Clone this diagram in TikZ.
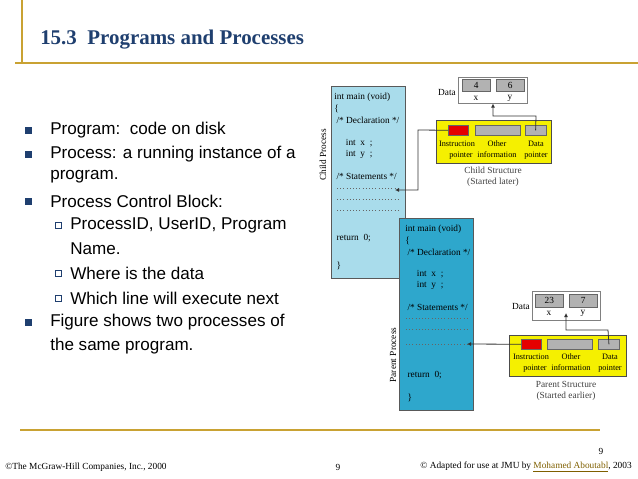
\documentclass[tikz,border=0pt]{standalone}
\usepackage{fontspec}
\setmainfont{Liberation Serif}
\newfontfamily\arial{Liberation Sans}
\usetikzlibrary{arrows.meta}
\definecolor{gold}{HTML}{C9A233}
\definecolor{ttl}{HTML}{1F3F6F}
\definecolor{lblue}{HTML}{A9DCEB}
\definecolor{dblue}{HTML}{2EA7CC}
\definecolor{yel}{HTML}{F5F000}
\definecolor{lnk}{HTML}{7F5F00}
\tikzset{
 bul/.style={anchor=west,font=\arial\fontsize{12.8}{14}\selectfont,inner sep=0},
 code/.style={anchor=west,font=\fontsize{7}{8}\selectfont,inner sep=0},
 lab/.style={font=\fontsize{7}{8}\selectfont,inner sep=0,align=center},
 blab/.style={font=\fontsize{6.2}{7}\selectfont,inner sep=0,anchor=base},
 gbox/.style={draw=gray!80!black,fill=gray!60,inner sep=0},
 rbox/.style={draw=gray!80!black,fill=red!90!black,inner sep=0},
 ptr/.style={draw=black!80,line width=0.6pt,-{Latex[length=3pt,width=3pt]}},
 foot/.style={font=\fontsize{7}{8}\selectfont,inner sep=0}
}
\begin{document}
\begin{tikzpicture}[x=0.75pt,y=-0.75pt]
\useasboundingbox (0,0) rectangle (638,478);
\draw[gold,line width=0.8pt] (22,0) -- (22,63);
\draw[gold,line width=0.8pt] (15,63) -- (638,63);
\draw[gold,line width=0.8pt] (20,430) -- (600,430);
\node[anchor=west,inner sep=0,text=ttl,font=\bfseries\fontsize{15.7}{17}\selectfont] (title) at (40,40) {15.3\ \ Programs and Processes};
% bullets
\foreach \y in {130,154,201,322}
 {\fill[ttl] (25,\y-3.5) rectangle (32,\y+3.5);}
\node[bul] (b1) at (50,130) {Program:\ \ code on disk};
\node[bul] (b2) at (50,154) {Process: a running instance of a};
\node[bul] (b2b) at (50,177) {program.};
\node[bul] (b3) at (50,201) {Process Control Block:};
\foreach \y in {225,273,298} {\draw[ttl,line width=0.6pt] (55,\y-3) rectangle (61,\y+3);}
\node[bul] (s1) at (70,225) {ProcessID, UserID, Program};
\node[bul] (s1b) at (70,249) {Name.};
\node[bul] (s2) at (70,273) {Where is the data};
\node[bul] (s3) at (70,298) {Which line will execute next};
\node[bul] (b4) at (50,322) {Figure shows two processes of};
\node[bul] (b4b) at (50,346) {the same program.};
% child process
\node[draw=gray!70!black,fill=lblue,minimum width=55.5pt,minimum height=144pt,inner sep=0,anchor=north west] (child) at (331,86) {};
\node[lab,rotate=90] (clab) at (323,155) {Child Process};
\foreach \dy/\t in {97/{int main (void)},109/\{,120/{\ /* Declaration */},143/{\quad\ int\ \ x\ \ ;},154/{\quad\ int\ \ y\ \ ;},176/{\ /* Statements */},238/{\ return\ \ 0;},266/{\ \}}}
 {\node[code] at (334,\dy) {\t};}
\foreach \dy in {188,199,210} {\draw[black!60,line width=0.4pt,dotted] (337,\dy) -- (399,\dy);}
% parent process
\node[draw=gray!70!black,fill=dblue,minimum width=55.5pt,minimum height=144pt,inner sep=0,anchor=north west] (parent) at (399,218) {};
\node[lab,rotate=90] (plab) at (393,355) {Parent Process};
\foreach \dy/\t in {229/{int main (void)},241/\{,252/{\ /* Declaration */},274/{\quad\ int\ \ x\ \ ;},285/{\quad\ int\ \ y\ \ ;},307/{\ /* Statements */},375/{\ return\ \ 0;},398/{\ \}}}
 {\node[code] at (405,\dy) {\t};}
\foreach \dy in {318,329,344} {\draw[black!60,line width=0.4pt,dotted] (406,\dy) -- (469,\dy);}
% child data
\node[draw=gray,fill=white,minimum width=51.75pt,minimum height=19.5pt,inner sep=0,anchor=north west] (cdata) at (458,77) {};
\node[lab,anchor=east] (cdl) at (456,92) {Data};
\node[gbox,minimum width=21pt,minimum height=9pt,anchor=north west,font=\fontsize{7}{8}\selectfont] (cx) at (462,79) {4};
\node[gbox,minimum width=21pt,minimum height=9pt,anchor=north west,font=\fontsize{7}{8}\selectfont] (cy) at (496,79) {6};
\node[lab] at (476,98) {x};
\node[lab] at (510,98) {y};
% child structure
\node[draw=gray!60!black,fill=yel,minimum width=86pt,minimum height=32pt,inner sep=0,anchor=north west] (cs) at (436,120) {};
\node[rbox,minimum width=15pt,minimum height=7.5pt,anchor=north west] (cip) at (448,125) {};
\node[gbox,minimum width=34pt,minimum height=7.5pt,anchor=north west] (coi) at (475,125) {};
\node[gbox,minimum width=15.5pt,minimum height=7.5pt,anchor=north west] (cdp) at (525,125) {};
\node[blab] at (457,146) {Instruction};
\node[blab] at (461,157) {pointer};
\node[blab] at (497,146) {Other};
\node[blab] at (497,157) {information};
\node[blab] at (536,146) {Data};
\node[blab] at (536,157) {pointer};
\node[lab,text=black!75] (cst) at (493,177) {Child Structure\\(Started later)};
\draw[ptr] (cip.west) -- (418,130) -- (418,190) -- (395,190);
\draw[ptr] (cdp.center) -- (536,116) -- (493,116) -- (cdata.south -| 493,0);
% parent data
\node[draw=gray,fill=white,minimum width=51pt,minimum height=22pt,inner sep=0,anchor=north west] (pdata) at (532,291) {};
\node[lab,anchor=east] (pdl) at (530,306) {Data};
\node[gbox,minimum width=21pt,minimum height=10pt,anchor=north west,font=\fontsize{7}{8}\selectfont] (px) at (535,294) {23};
\node[gbox,minimum width=21pt,minimum height=10pt,anchor=north west,font=\fontsize{7}{8}\selectfont] (py) at (569,294) {7};
\node[lab] at (549,313) {x};
\node[lab] at (583,313) {y};
% parent structure
\node[draw=gray!60!black,fill=yel,minimum width=88pt,minimum height=31pt,inner sep=0,anchor=north west] (ps) at (509,335) {};
\node[rbox,minimum width=15pt,minimum height=7.5pt,anchor=north west] (pip) at (521,339) {};
\node[gbox,minimum width=34pt,minimum height=7.5pt,anchor=north west] (poi) at (547,339) {};
\node[gbox,minimum width=16pt,minimum height=7.5pt,anchor=north west] (pdp) at (598,339) {};
\node[blab] at (531,359) {Instruction};
\node[blab] at (535,370) {pointer};
\node[blab] at (571,359) {Other};
\node[blab] at (571,370) {information};
\node[blab] at (610,359) {Data};
\node[blab] at (610,370) {pointer};
\node[lab,text=black!75] (pst) at (566,391) {Parent Structure\\(Started earlier)};
\draw[ptr] (pip.west) -- (467,344);
\draw[ptr] (pdp.center) -- (608,330) -- (566,330) -- (566,313);
% footer
\node[foot,anchor=west] (f1) at (5,467) {©The McGraw-Hill Companies, Inc., 2000};
\node[foot] (f2) at (338,467) {9};
\node[foot,anchor=east] (f3) at (632,467) {© Adapted for use at JMU by \textcolor{lnk}{\underline{Mohamed Aboutabl}}, 2003};
\node[foot] (pg) at (601,451) {9};
\end{tikzpicture}
\end{document}
